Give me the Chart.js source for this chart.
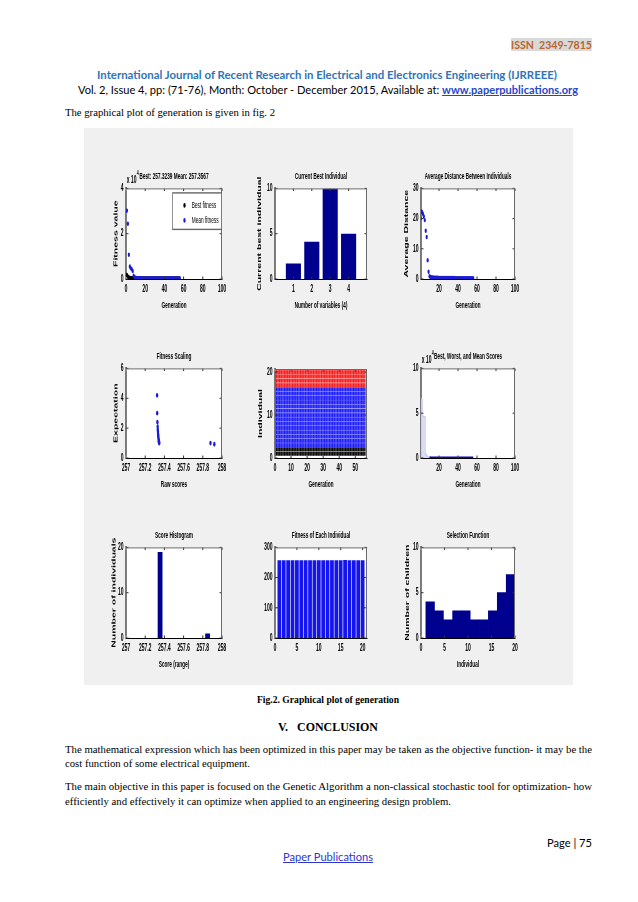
<!DOCTYPE html>
<html>
<head>
<meta charset="utf-8">
<script src="https://cdn.jsdelivr.net/npm/chart.js@4.4.1/dist/chart.umd.min.js"></script>
<style>
  html, body { margin: 0; padding: 0; background: #ffffff; width: 638px; height: 902px; overflow: hidden; }
  .t { position: absolute; white-space: pre; line-height: 14px; transform-origin: 0 50%; color: #000; }
  .sans { font-family: "Lato", "Open Sans", "Liberation Sans", sans-serif; }
  .serif { font-family: "Liberation Serif", "DejaVu Serif", serif; }
  .fig { position: absolute; left: 84px; top: 128px; width: 489px; height: 557px; background: #f0f0f0; }
  .pw { position: absolute; transform-origin: 0 0; }
  .pw canvas { display: block; }
</style>
</head>
<body>
<div class="t sans" data-w="81" style="left:511px; top:38px; font-size:11px; font-weight:bold; color:#b9652e; background:#d9d9d9; line-height:13px;">ISSN  2349-7815</div>
<div class="t sans" data-w="460" style="left:97px; top:68px; font-size:11.5px; font-weight:bold; color:#2e75b6;">International Journal of Recent Research in Electrical and Electronics Engineering (IJRREEE)</div>
<div class="t sans" data-w="500" style="left:78px; top:83px; font-size:11.5px;">Vol. 2, Issue 4, pp: (71-76), Month: October - December 2015, Available at: <span style="font-weight:bold; color:#1f47c8; text-decoration:underline;">www.paperpublications.org</span></div>
<div class="t serif" data-w="210" style="left:65px; top:106px; font-size:10px;">The graphical plot of generation is given in fig. 2</div>

<div class="fig"></div>

<div class="t serif" data-w="142" style="left:257px; top:693px; font-size:9.5px; font-weight:bold;">Fig.2. Graphical plot of generation</div>
<div class="t serif" data-w="100" style="left:278px; top:719.5px; font-size:12.5px; font-weight:bold;">V.   CONCLUSION</div>
<div class="t serif" data-w="527" style="left:65px; top:743px; font-size:10px;">The mathematical expression which has been optimized in this paper may be taken as the objective function- it may be the</div>
<div class="t serif" data-w="185" style="left:65px; top:757px; font-size:10px;">cost function of some electrical equipment.</div>
<div class="t serif" data-w="527" style="left:65px; top:779.5px; font-size:10px;">The main objective in this paper is focused on the Genetic Algorithm a non-classical stochastic tool for optimization- how</div>
<div class="t serif" data-w="386" style="left:65px; top:794.5px; font-size:10px;">efficiently and effectively it can optimize when applied to an engineering design problem.</div>
<div class="t sans" data-w="45" style="left:547px; top:836px; font-size:11px;">Page | 75</div>
<div class="t sans" data-w="90" style="left:283px; top:850px; font-size:11px; color:#2e35cc; text-decoration:underline;">Paper Publications</div>

<script>
// ---------------- DATA ----------------
const generations = [1,2,3,4,5,6,7,8,9,10,11,12,13,14,15,16,17,18,19,20,21,22,23,24,25,26,27,28,29,30,31,32,33,34,35,36,37,38,39,40,41,42,43,44,45,46,47,48,49,50,51,52,53,54,55,56];

// Plot 1: Best / Mean fitness
const fitnessTitle = 'Best: 257.3239 Mean: 257.3567';
const bestFitness = [1800,1100,700,520,420,360,320,300,290,280, 274,270,268,266,264,263,262,261,260.5,260, 259.6,259.3,259,258.8,258.6,258.4,258.3,258.2,258.1,258, 257.9,257.85,257.8,257.75,257.7,257.66,257.62,257.58,257.55,257.52, 257.5,257.48,257.46,257.44,257.42,257.4,257.39,257.38,257.37,257.36, 257.35,257.34,257.335,257.33,257.326,257.3239];
const meanFitness = [30200,24400,10700,5500,4800,4300,3500,1500,800,560, 450,400,370,340,320,305,295,288,282,278, 275,272,270,268,266,265,264,263,262,261.5, 261,260.5,260,259.7,259.4,259.1,258.9,258.7,258.5,258.3, 258.2,258.1,258,257.9,257.85,257.8,257.75,257.7,257.65,257.6, 257.55,257.5,257.45,257.42,257.39,257.3567];
const fitnessExponent = 4;
const fitnessYTicks = [0, 20000, 40000];
const generationTicksFrom0 = [0, 20, 40, 60, 80, 100];

// Plot 2: Current best individual
const variableIndex = [1, 2, 3, 4];
const currentBest = [1.7, 4.1, 10, 5];
const currentBestYTicks = [0, 5, 10];

// Plot 3: Average distance between individuals
const avgDistance = [20.0,22.3,21.6,20.7,19.5,16.0,13.9,6.2,2.4,0.9, 0.7,0.6,0.5,0.5,0.45,0.45,0.4,0.4,0.4,0.38, 0.38,0.36,0.36,0.35,0.35,0.34,0.34,0.33,0.33,0.33, 0.32,0.32,0.32,0.31,0.31,0.31,0.3,0.3,0.3,0.3, 0.29,0.29,0.29,0.29,0.28,0.28,0.28,0.28,0.27,0.27, 0.27,0.27,0.26,0.26,0.26,0.26];
const distanceYTicks = [0, 10, 20, 30];
const generationTicksFrom20 = [20, 40, 60, 80, 100];

// Plot 4: Fitness scaling
const rawScores = [257.3239,257.325,257.327,257.33,257.331,257.333,257.334,257.336,257.337,257.338,257.339,257.34,257.341,257.342,257.343,257.344,257.345,257.346,257.88,257.92];
const expectation = [4.2,3.0,2.4,2.1,1.9,1.75,1.6,1.5,1.42,1.35,1.28,1.22,1.17,1.12,1.08,1.05,1.02,0.99,1.0,0.92];
const rawScoreTicks = [257, 257.2, 257.4, 257.6, 257.8, 258];
const expectationTicks = [0, 2, 4, 6];

// Plot 5: Genealogy (individual class per rank: k = elite/black, b = crossover/blue, r = mutation/red)
const individualRanks = [1,2,3,4,5,6,7,8,9,10,11,12,13,14,15,16,17,18,19,20];
const individualClass = ['k','k','b','b','b','b','b','b','b','b','b','b','b','b','b','b','r','r','r','r'];
const genealogyXTicks = [0, 10, 20, 30, 40, 50];
const genealogyYTicks = [0, 10, 20];

// Plot 6: Best, worst and mean scores
const worstScores = [66000,65500,47000,46500,46000,4500,3200,1500,800,600, 500,450,420,400,390,380,370,360,350,345, 340,335,330,325,320,318,315,312,310,308, 305,303,300,298,296,294,292,290,288,286, 284,282,280,278,276,274,272,270,268,266, 265,264,263,262,261,260];
const meanScores = [null,null,null,null,null,null,null,null,null,560, 450,400,370,340,320,305,295,288,282,278, 275,272,270,268,266,265,264,263,262,261.5, 261,260.5,260,259.7,259.4,259.1,258.9,258.7,258.5,258.3, 258.2,258.1,258,257.9,257.85,257.8,257.75,257.7,257.65,257.6, 257.55,257.5,257.45,257.42,257.39,257.3567];
const scoresExponent = 4;
const scoresYTicks = [0, 50000, 100000];

// Plot 7: Score histogram
const histScoreCenters = [257.355, 257.85];
const histCounts = [19, 1];
const histYTicks = [0, 10, 20];

// Plot 8: Fitness of each individual
const individuals = [1,2,3,4,5,6,7,8,9,10,11,12,13,14,15,16,17,18,19,20];
const individualFitness = [257.33,257.34,257.3239,257.35,257.34,257.33,257.36,257.34,257.35,257.33,257.34,257.37,257.33,257.35,257.34,257.87,257.33,257.36,257.34,257.35];
const individualFitnessYTicks = [0, 100, 200, 300];
const individualXTicks = [0, 5, 10, 15, 20];

// Plot 9: Selection function
const selectionBinCenters = [1.95, 3.85, 5.75, 7.65, 9.55, 11.45, 13.35, 15.25, 17.15, 19.05];
const childrenCounts = [4, 3, 2, 3, 3, 2, 2, 3, 5, 7];
const childrenYTicks = [0, 5, 10];

// ---------------- STYLE / LAYOUT ----------------
const SX = 0.5;          // horizontal squeeze of the MATLAB figure
const Y_W = 60, X_H = 40, TOP_H = 30, PAD_R = 20;
const NAVY = '#00008f', BLUE = '#1c1cd8';
const classColor = { k: '#0a0a0a', b: '#1e1ef5', r: '#f41c1c' };
const classEdge  = { k: '#7a7a7a', b: '#8c8cff', r: '#ff9a9a' };
const FONT = '"Liberation Sans", Arial, sans-serif';

Chart.defaults.font.family = FONT;
Chart.defaults.font.size = 10;
Chart.defaults.color = '#000';

const matlabFrame = {
  id: 'matlabFrame',
  defaults: { exponent: null, legend: false },
  beforeDraw(chart) {
    const { ctx, chartArea: a } = chart;
    ctx.save();
    ctx.fillStyle = '#ffffff';
    ctx.fillRect(a.left, a.top, a.right - a.left, a.bottom - a.top);
    ctx.restore();
  },
  afterDraw(chart, args, opts) {
    const { ctx, chartArea: a, scales } = chart;
    const x = scales.x, y = scales.y;
    ctx.save();
    ctx.strokeStyle = '#333';
    ctx.lineWidth = 2;
    ctx.beginPath();
    x.ticks.forEach(t => {
      const p = x.getPixelForValue(t.value);
      ctx.moveTo(p, a.bottom); ctx.lineTo(p, a.bottom - 2.5);
      ctx.moveTo(p, a.top); ctx.lineTo(p, a.top + 2.5);
    });
    ctx.stroke();
    ctx.lineWidth = 1;
    ctx.beginPath();
    y.ticks.forEach(t => {
      const p = y.getPixelForValue(t.value);
      ctx.moveTo(a.left, p); ctx.lineTo(a.left + 5, p);
      ctx.moveTo(a.right, p); ctx.lineTo(a.right - 5, p);
    });
    ctx.stroke();
    ctx.strokeStyle = '#6a6a6a';
    ctx.lineWidth = 1;
    ctx.beginPath(); ctx.moveTo(a.left, a.top + 0.5); ctx.lineTo(a.right, a.top + 0.5); ctx.stroke();
    ctx.lineWidth = 2;
    ctx.beginPath(); ctx.moveTo(a.right - 1, a.top); ctx.lineTo(a.right - 1, a.bottom); ctx.stroke();

    if (opts.exponent !== null && opts.exponent !== undefined) {
      ctx.fillStyle = '#000';
      ctx.textBaseline = 'middle';
      ctx.textAlign = 'left';
      ctx.font = 'bold 10px ' + FONT;
      const base = 'x 10';
      ctx.fillText(base, a.left + 1.5, a.top - 8.5);
      const bw = ctx.measureText(base).width;
      ctx.font = 'bold 7px ' + FONT;
      ctx.fillText(String(opts.exponent), a.left + 2 + bw, a.top - 15);
    }
    if (opts.legend) {
      const bx = a.right - 99, by = a.top + 4.5, bw = 98, bh = 36.5;
      ctx.fillStyle = '#fff';
      ctx.fillRect(bx, by, bw, bh);
      ctx.strokeStyle = '#666';
      ctx.lineWidth = 1.4;
      ctx.strokeRect(bx, by, bw, bh);
      ctx.font = '9.5px ' + FONT;
      ctx.textBaseline = 'middle';
      ctx.textAlign = 'left';
      chart.data.datasets.forEach((ds, i) => {
        const yy = a.top + 17 + i * 15;
        ctx.fillStyle = ds.backgroundColor;
        ctx.beginPath(); ctx.arc(a.right - 75, yy, 2.3, 0, Math.PI * 2); ctx.fill();
        ctx.fillStyle = '#000';
        ctx.fillText(ds.label, a.right - 60.5, yy);
      });
    }
    ctx.restore();
  }
};
Chart.register(matlabFrame);

const pts = (xs, ys) => xs.map((v, i) => ({ x: v, y: ys[i] }));
const fmt = (v) => String(+v.toFixed(6));

function xAxis(min, max, ticks, title) {
  return {
    type: 'linear', position: 'bottom', min, max, offset: false,
    afterBuildTicks: s => { s.ticks = ticks.map(v => ({ value: v })); },
    afterFit: s => { s.height = X_H; },
    grid: { display: false, drawTicks: false },
    border: { display: true, color: '#000', width: 1 },
    ticks: { padding: 4, autoSkip: false, maxRotation: 0, minRotation: 0, color: '#000', font: { size: 10, weight: 'bold' }, callback: v => fmt(v) },
    title: { display: !!title, text: title || '', color: '#000', font: { size: 9.5, weight: 'bold' }, padding: { top: 0, bottom: 8 } }
  };
}
function yAxis(min, max, ticks, title, titlePad, exponent) {
  const f = Math.pow(10, exponent || 0);
  return {
    type: 'linear', position: 'left', min, max,
    afterBuildTicks: s => { s.ticks = ticks.map(v => ({ value: v })); },
    afterFit: s => { s.width = Y_W; },
    grid: { display: false, drawTicks: false },
    border: { display: true, color: '#000', width: 2 },
    ticks: { padding: 5, autoSkip: false, color: '#000', font: { size: 10, weight: 'bold' }, callback: v => fmt(v / f) },
    title: { display: !!title, text: title || '', color: '#000', font: { size: 10.5, weight: 'bold' }, padding: { top: titlePad || 0, bottom: 0 } }
  };
}
function makeChart(axL, axT, axW, axH, type, data, scales, title, frameOpts) {
  const wrap = document.createElement('div');
  wrap.className = 'pw';
  wrap.style.left = (axL - Y_W * SX) + 'px';
  wrap.style.top = (axT - TOP_H) + 'px';
  wrap.style.transform = 'scaleX(' + SX + ')';
  const c = document.createElement('canvas');
  c.width = Math.round(Y_W + axW / SX + PAD_R);
  c.height = Math.round(TOP_H + axH + X_H);
  wrap.appendChild(c);
  document.body.appendChild(wrap);
  return new Chart(c, {
    type, data,
    options: {
      responsive: false, animation: false, events: [],
      layout: { padding: { top: title ? 0 : TOP_H, right: PAD_R, bottom: 0, left: 0 } },
      scales,
      plugins: {
        legend: { display: false }, tooltip: { enabled: false },
        title: { display: !!title, text: title || '', fullSize: false, color: '#000', font: { size: 9.5, weight: 'bold' }, padding: { top: 11.5, bottom: 6.5 } },
        matlabFrame: frameOpts || {}
      }
    }
  });
}

// column / row geometry of the axes boxes (page px)
const C1 = [126, 96], C2 = [275, 92], C3 = [420.5, 94];
const R1 = [189, 90], R2 = [369, 89], R3 = [548, 90];

// Plot 1
makeChart(C1[0], R1[0], C1[1], R1[1], 'scatter', {
  datasets: [
    { label: 'Best fitness', data: pts(generations, bestFitness), backgroundColor: '#000', borderColor: '#000', pointRadius: 2.2, borderWidth: 0, order: 1 },
    { label: 'Mean fitness', data: pts(generations, meanFitness), backgroundColor: BLUE, borderColor: BLUE, pointRadius: 2.2, borderWidth: 0, order: 0 }
  ]
}, {
  x: xAxis(0, 100, generationTicksFrom0, 'Generation'),
  y: yAxis(0, 40000, fitnessYTicks, 'Fitness value', 34, fitnessExponent)
}, fitnessTitle, { exponent: fitnessExponent, legend: true });

// Plot 2
makeChart(C2[0], R1[0], C2[1], R1[1], 'bar', {
  datasets: [{ label: 'Current best individual', data: pts(variableIndex, currentBest), backgroundColor: NAVY, borderWidth: 0, barPercentage: 0.82, categoryPercentage: 1 }]
}, {
  x: xAxis(0, 5, variableIndex, 'Number of variables (4)'),
  y: yAxis(0, 10, currentBestYTicks, 'Current best individual', 23)
}, 'Current Best Individual');

// Plot 3
makeChart(C3[0], R1[0], C3[1], R1[1], 'scatter', {
  datasets: [{ label: 'Average distance', data: pts(generations, avgDistance), backgroundColor: BLUE, borderColor: BLUE, pointRadius: 2.2, borderWidth: 0 }]
}, {
  x: xAxis(1, 100, generationTicksFrom20, 'Generation'),
  y: yAxis(0, 30, distanceYTicks, 'Average Distance', 25)
}, 'Average Distance Between Individuals');

// Plot 4
makeChart(C1[0], R2[0], C1[1], R2[1], 'scatter', {
  datasets: [{ label: 'Expectation', data: pts(rawScores, expectation), backgroundColor: BLUE, borderColor: BLUE, pointRadius: 2.4, borderWidth: 0 }]
}, {
  x: xAxis(257, 258, rawScoreTicks, 'Raw scores'),
  y: yAxis(0, 6, expectationTicks, 'Expectation', 34)
}, 'Fitness Scaling');

// Plot 5
makeChart(C2[0], R2[0], C2[1], R2[1], 'bar', {
  datasets: individualRanks.map((k, i) => ({
    label: 'Individual ' + k,
    data: generations.map(g => ({ x: g, y: [k - 0.5, k + 0.5] })),
    backgroundColor: classColor[individualClass[i]],
    borderColor: classEdge[individualClass[i]],
    borderWidth: { top: 0.7, right: 0.9, bottom: 0, left: 0 },
    borderSkipped: false,
    grouped: false, barPercentage: 1, categoryPercentage: 1
  }))
}, {
  x: xAxis(0, 57.3, genealogyXTicks, 'Generation'),
  y: yAxis(0, 20.7, genealogyYTicks, 'Individual', 25)
}, null);

// Plot 6
makeChart(C3[0], R2[0], C3[1], R2[1], 'line', {
  datasets: [
    { label: 'Worst', data: pts(generations, worstScores), fill: 'origin', stepped: 'middle', backgroundColor: 'rgba(214,214,250,0.9)', borderColor: '#b4b4f0', borderWidth: 1, pointRadius: 0, order: 1 },
    { label: 'Mean', data: pts(generations, meanScores), fill: false, borderColor: '#0a0ab0', borderWidth: 2.5, pointRadius: 0, order: 0 }
  ]
}, {
  x: xAxis(1, 100, generationTicksFrom20, 'Generation'),
  y: yAxis(0, 100000, scoresYTicks, '', 0, scoresExponent)
}, 'Best, Worst, and Mean Scores', { exponent: scoresExponent });

// Plot 7 (bar width = 0.25 of the 0.2 tick spacing)
makeChart(C1[0], R3[0], C1[1], R3[1], 'bar', {
  datasets: [{ label: 'Score histogram', data: pts(histScoreCenters, histCounts), backgroundColor: NAVY, borderWidth: 0, barPercentage: 1, categoryPercentage: 0.25 }]
}, {
  x: xAxis(257, 258, rawScoreTicks, 'Score (range)'),
  y: yAxis(0, 20, histYTicks, 'Number of individuals', 30)
}, 'Score Histogram');

// Plot 8
makeChart(C2[0], R3[0], C2[1], R3[1], 'bar', {
  datasets: [{ label: 'Fitness', data: pts(individuals, individualFitness), backgroundColor: '#1414ee', borderWidth: 0, barPercentage: 0.86, categoryPercentage: 1 }]
}, {
  x: xAxis(0, 21, individualXTicks, ''),
  y: yAxis(0, 300, individualFitnessYTicks, '', 0)
}, 'Fitness of Each Individual');

// Plot 9
makeChart(C3[0], R3[0], C3[1], R3[1], 'bar', {
  datasets: [{ label: 'Children', data: pts(selectionBinCenters, childrenCounts), backgroundColor: NAVY, borderWidth: 0, barPercentage: 1, categoryPercentage: 1 }]
}, {
  x: xAxis(0, 20, individualXTicks, 'Individual'),
  y: yAxis(0, 10, childrenYTicks, 'Number of children', 27)
}, 'Selection Function');

// fit page text lines to their measured widths
function fitText() {
  document.querySelectorAll('.t').forEach(el => {
    el.style.transform = 'none';
    const w = el.getBoundingClientRect().width;
    const tw = +el.dataset.w;
    if (w > 0 && tw > 0) el.style.transform = 'scaleX(' + (tw / w) + ')';
  });
}
fitText();
if (document.fonts && document.fonts.ready) document.fonts.ready.then(fitText);
</script>
</body>
</html>
